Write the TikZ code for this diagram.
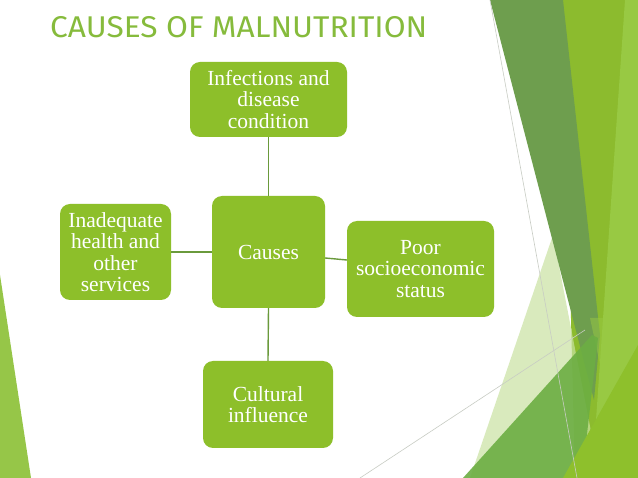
\documentclass[tikz,border=0pt]{standalone}
\usepackage{fontspec}
\setmainfont{Liberation Serif}
\newfontfamily\titlefont{Fira Sans}
\definecolor{boxgreen}{HTML}{8DBF2A}
\definecolor{titlegreen}{HTML}{86BB3C}
\definecolor{linkgreen}{HTML}{6A9A3C}
\definecolor{darkband}{HTML}{6E9E4E}
\definecolor{limeA}{HTML}{8CBB2E}
\definecolor{limeB}{HTML}{98C943}
\definecolor{paleg}{HTML}{C9E2A2}
\definecolor{midg}{HTML}{6CAE43}
\definecolor{brightlime}{HTML}{8EC02C}
\definecolor{leftlime}{HTML}{96C648}
\definecolor{thinline}{HTML}{C8CCC4}
\begin{document}
\begin{tikzpicture}[x=1pt,y=-1pt,
  causebox/.style={fill=boxgreen,rounded corners=10pt,text=white,align=center,
    font=\fontsize{21.5}{21.5}\selectfont,inner sep=2pt},
  link/.style={draw=linkgreen,line width=1.4pt}]
\useasboundingbox[fill=white] (0,0) rectangle (638,478);
% background decoration
\fill[leftlime] (0,275) -- (31,478) -- (0,478) -- cycle;
\fill[limeA] (563,0) -- (638,0) -- (638,478) -- (575,478) -- cycle;
\fill[limeB] (625,0) -- (638,0) -- (638,478) -- (592,478) -- cycle;
\fill[paleg,opacity=0.7] (553,235) -- (470,478) -- (600,478) -- cycle;
\fill[darkband] (490,0) -- (563,0) -- (600,335) -- (594,400) -- cycle;
\fill[limeB,opacity=0.5] (590,318) -- (617,318) -- (612,420) -- cycle;
\fill[midg,opacity=0.9] (463,478) -- (592,335) -- (598,338) -- (582,478) -- cycle;
\fill[brightlime] (563,478) -- (638,345) -- (638,478) -- cycle;
\draw[thinline,line width=0.6pt] (490,0) -- (577,478);
\draw[thinline,line width=0.6pt] (360,478) -- (585,330);
% title
\node[anchor=base west,inner sep=0pt,text=titlegreen] (title) at (50,38)
  {\scalebox{1.056}[1]{\titlefont\fontsize{30}{36}\selectfont CAUSES OF MALNUTRITION}};
% boxes
\node[causebox,minimum width=157pt,minimum height=75pt] (top) at (268.5,99.5) {Infections and\\disease\\condition};
\node[causebox,minimum width=113pt,minimum height=112pt] (c) at (268.5,252) {Causes};
\node[causebox,minimum width=111pt,minimum height=96pt] (l) at (115.5,252) {Inadequate\\health and\\other\\services};
\node[causebox,minimum width=147pt,minimum height=96pt] (r) at (420.5,269) {Poor\\socioeconomic\\status};
\node[causebox,minimum width=130pt,minimum height=87pt] (b) at (268,404.5) {Cultural\\influence};
% connectors
\draw[link] (top.south) -- (c.north);
\draw[link] (c.south) -- (b.north);
\draw[link] (l.east) -- (c.west);
\draw[link] ([yshift=-6pt]c.east) -- ([yshift=9pt]r.west);
\end{tikzpicture}
\end{document}
